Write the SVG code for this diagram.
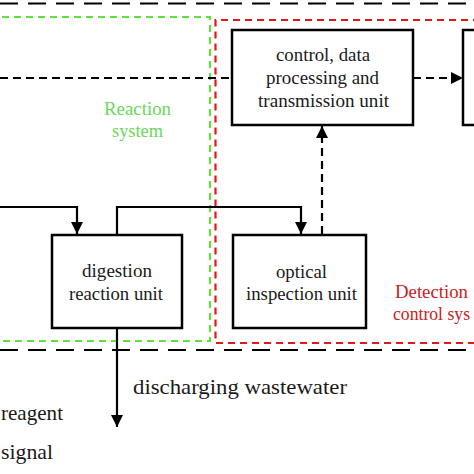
<svg xmlns="http://www.w3.org/2000/svg" width="474" height="474" viewBox="0 0 474 474">
<defs>
<style>
text{font-family:"Liberation Serif","Times New Roman",Tinos,"DejaVu Serif",serif}
.t{font-size:19px;fill:#1a1a1a}
.tl{font-size:22px;fill:#1a1a1a}
.g{font-size:19px;fill:#6ad858}
.r{font-size:19px;fill:#cc2020}
.box{fill:#fff;stroke:#000;stroke-width:2.5}
.ln{fill:none;stroke:#000;stroke-width:2.2}
.dl{fill:none;stroke:#000;stroke-width:2.2;stroke-dasharray:8 5}
</style>
<marker id="ah" viewBox="0 0 12 12" refX="12" refY="6" markerWidth="12" markerHeight="12" markerUnits="userSpaceOnUse" orient="auto">
<path d="M0,0 L12,6 L0,12 Z" fill="#000"/>
</marker>
</defs>
<rect width="474" height="474" fill="#fff"/>
<g id="frames">
<path d="M0,3.5 H474" fill="none" stroke="#000" stroke-width="2.2" stroke-dasharray="18 10"/>
<path d="M0,350 H474" fill="none" stroke="#000" stroke-width="2.2" stroke-dasharray="18 10"/>
<path d="M-10,17 H210 V341 H-10" fill="none" stroke="#5fe03a" stroke-width="2.2" stroke-dasharray="7 5"/>
<path d="M480,20 H215.5 V343 H480" fill="none" stroke="#e01a1a" stroke-width="2.2" stroke-dasharray="7 5"/>
<text class="g" x="104" y="115" textLength="67" lengthAdjust="spacingAndGlyphs">Reaction</text>
<text class="g" x="112" y="137" textLength="51" lengthAdjust="spacingAndGlyphs">system</text>
<text class="r" x="395" y="298" textLength="73" lengthAdjust="spacingAndGlyphs">Detection</text>
<text class="r" x="393" y="320" textLength="77" lengthAdjust="spacingAndGlyphs">control sys</text>
</g>
<g id="connectors">
<path class="dl" d="M0,78 H232"/>
<path class="dl" d="M413,78 H463" marker-end="url(#ah)"/>
<path class="dl" d="M322,234 V126" marker-end="url(#ah)"/>
<path class="ln" d="M0,207 H77 V234" marker-end="url(#ah)"/>
<path class="ln" d="M117,234 V207 H301 V234" marker-end="url(#ah)"/>
<path class="ln" d="M117,329 V427" marker-end="url(#ah)"/>
</g>
<g id="control">
<rect class="box" x="232" y="30" width="181" height="95"/>
<text class="t" x="276" y="61" textLength="94" lengthAdjust="spacingAndGlyphs">control, data</text>
<text class="t" x="266" y="84" textLength="113" lengthAdjust="spacingAndGlyphs">processing and</text>
<text class="t" x="258" y="107" textLength="131" lengthAdjust="spacingAndGlyphs">transmission unit</text>
</g>
<g id="output">
<rect class="box" x="463" y="30" width="30" height="95"/>
</g>
<g id="digestion">
<rect class="box" x="52" y="235" width="130" height="93"/>
<text class="t" x="82" y="277" textLength="70" lengthAdjust="spacingAndGlyphs">digestion</text>
<text class="t" x="69" y="300" textLength="94" lengthAdjust="spacingAndGlyphs">reaction unit</text>
</g>
<g id="optical">
<rect class="box" x="233" y="235" width="133" height="93"/>
<text class="t" x="276" y="278" textLength="51" lengthAdjust="spacingAndGlyphs">optical</text>
<text class="t" x="246" y="300" textLength="111" lengthAdjust="spacingAndGlyphs">inspection unit</text>
</g>
<g id="labels">
<text class="tl" x="133" y="394" textLength="214" lengthAdjust="spacingAndGlyphs">discharging wastewater</text>
<text class="tl" x="1" y="420" textLength="62" lengthAdjust="spacingAndGlyphs">reagent</text>
<text class="tl" x="1" y="459" textLength="52" lengthAdjust="spacingAndGlyphs">signal</text>
</g>
</svg>
